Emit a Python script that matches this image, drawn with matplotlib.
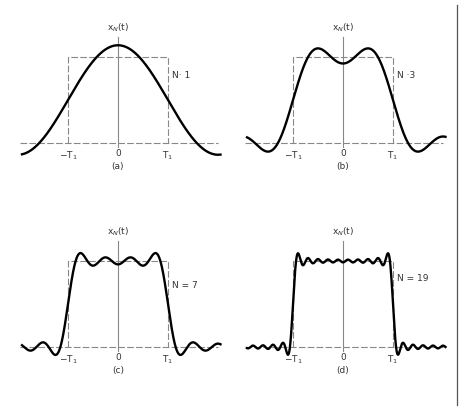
import numpy as np
import matplotlib.pyplot as plt
from matplotlib.lines import Line2D

# partial Fourier sums of a symmetric square wave, period T = 4*T1
harmonics = [1, 3, 7, 19]
panel_tags = ["(a)", "(b)", "(c)", "(d)"]
n_labels = ["N\u00b7 1", "N \u00b73", "N = 7", "N = 19"]
n_label_y = [0.78, 0.78, 0.72, 0.80]
tick_labels = ["\u2212T$_1$", "0", "T$_1$"]
tick_pos = [-1, 0, 1]

W, H = 474, 412
fig = plt.figure(figsize=(W / 100, H / 100), dpi=100)

px_t, px_y = 50.0, 86.0
xlim = (-2.1, 2.1)
ylim = (-0.3, 1.45)
origins = [(118, 143), (343, 143), (118, 347), (343, 347)]

t = np.linspace(-1.92, 2.05, 2000)
for k, (N, (ox, oy)) in enumerate(zip(harmonics, origins)):
    left = ox + xlim[0] * px_t
    bottom = (H - oy) + ylim[0] * px_y
    ax = fig.add_axes([left / W, bottom / H, (xlim[1] - xlim[0]) * px_t / W,
                       (ylim[1] - ylim[0]) * px_y / H])
    ax.set_xlim(*xlim)
    ax.set_ylim(*ylim)
    ax.axis("off")

    x = np.full_like(t, 0.5)
    for n in range(1, N + 1):
        a = np.sin(n * np.pi / 2) / (n * np.pi)
        x += 2 * a * np.cos(n * np.pi / 2 * t)

    g = "#888888"
    ax.plot([-1.96, 2.0], [0, 0], color=g, lw=0.8, ls=(0, (6, 2)))
    ax.plot([0, 0], [-0.05, 1.23], color=g, lw=0.8)
    ax.plot([-1, -1, 1, 1], [0, 1, 1, 0], color=g, lw=0.8, ls=(0, (6, 2)))
    ax.plot(t, x, color="black", lw=1.7)

    for p, lab in zip(tick_pos, tick_labels):
        ax.text(p, -0.07, lab, ha="center", va="top", fontsize=6.5, color="#333333")
    ax.text(0, -0.22, panel_tags[k], ha="center", va="top", fontsize=6.5, color="#333333")
    ax.text(0, 1.27, "x$_N$(t)", ha="center", va="bottom", fontsize=6.5, color="#333333")
    ax.text(1.08, n_label_y[k], n_labels[k], ha="left", va="center", fontsize=6.5,
            color="#333333")

fig.add_artist(Line2D([457 / W, 457 / W], [1 - 5 / H, 1 - 405 / H], color="#555555", lw=0.9))

fig.savefig("out.png", dpi=100)
